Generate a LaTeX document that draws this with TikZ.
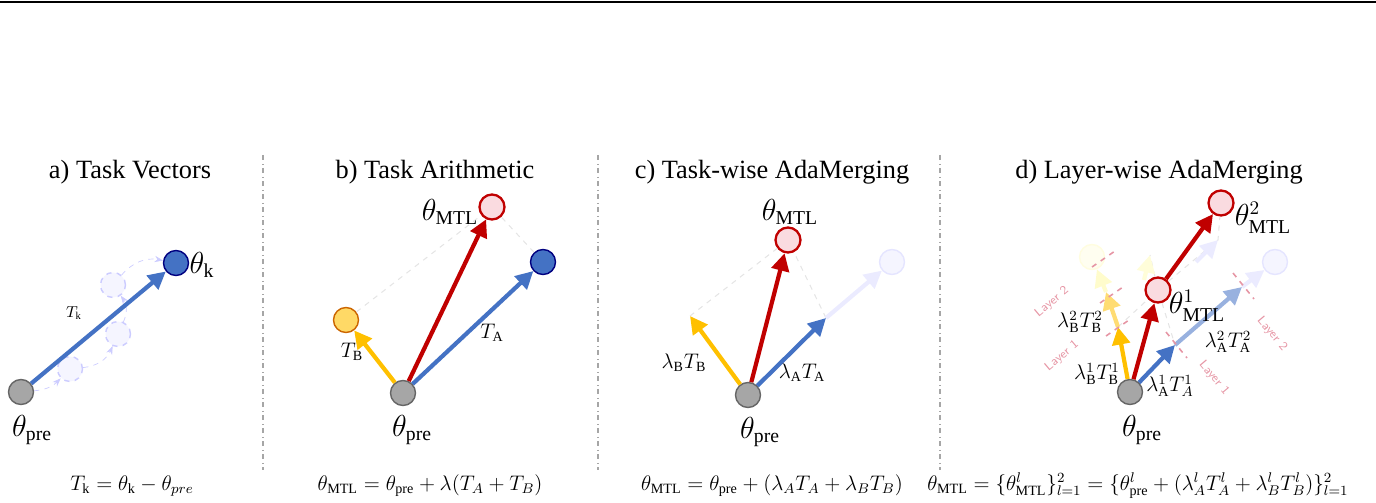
\documentclass[tikz,border=0pt]{standalone}
\usepackage{fontspec}
\setmainfont{Liberation Serif}
\usetikzlibrary{arrows.meta}
\begin{document}
\begin{tikzpicture}[x=0.02cm,y=-0.02cm,
  pt/.style={circle,minimum size=25*0.02cm,inner sep=0pt,line width=0.8pt},
  gpt/.style={pt,draw=gray!80!black,fill=gray!70},
  bpt/.style={pt,draw=blue!50!black,fill={rgb,255:red,68;green,114;blue,196}},
  ypt/.style={pt,draw=orange!80!black,fill={rgb,255:red,255;green,217;blue,102}},
  rpt/.style={pt,draw={rgb,255:red,192;green,0;blue,0},line width=1.3pt,fill={rgb,255:red,250;green,219;blue,224}},
  fpt/.style={pt,draw=blue!10,fill=blue!4},
  fyp/.style={pt,draw=yellow!12,fill=yellow!6},
  arr/.style={line width=2.4pt,-{Triangle[length=10pt,width=10pt]}},
  ba/.style={arr,draw=bA},
  ya/.style={arr,draw=yA},
  ra/.style={arr,draw=rA},
  guide/.style={dashed,draw=gray!20,line width=0.6pt},
  tick/.style={dashed,draw={rgb,255:red,230;green,150;blue,165},line width=0.9pt},
  lay/.style={text={rgb,255:red,230;green,150;blue,165},font=\sffamily\scriptsize,inner sep=0pt},
  ttl/.style={font=\fontsize{15}{18}\selectfont},
  frm/.style={font=\fontsize{11.5}{13}\selectfont},
  lbl/.style={font=\fontsize{16}{18}\selectfont,inner sep=1pt},
  sl/.style={font=\fontsize{12}{14}\selectfont,inner sep=1pt},
  sep/.style={dash dot,draw=gray!70,line width=0.6pt}]
\definecolor{bA}{RGB}{68,114,196}
\definecolor{yA}{RGB}{255,192,0}
\definecolor{rA}{RGB}{192,0,0}
\useasboundingbox (0,0) rectangle (1376,503);
\coordinate (tl) at (0,2); \coordinate (tr) at (1376,2);
\draw[line width=0.6pt] (tl) -- (tr);
\foreach \i/\x in {1/263,2/598,3/940}{
 \coordinate (s\i a) at (\x,155); \coordinate (s\i b) at (\x,470);
 \draw[sep] (s\i a) -- (s\i b);}
% ---- a
\node[ttl] (ta) at (130,172) {a) Task Vectors};
\node[fpt,dashed,draw=blue!20] (c1) at (70,369) {};
\node[fpt,dashed,draw=blue!20] (c2) at (118,334) {};
\node[fpt,dashed,draw=blue!20] (c3) at (113,285) {};
\node[gpt] (apre) at (21,392) {};
\node[bpt] (ak) at (176,263) {};
\draw[dashed,blue!20,-{Stealth}] (apre) to[bend right=20] (c1);
\draw[dashed,blue!20,-{Stealth}] (c1) to[bend right=30] (c2);
\draw[dashed,blue!20,-{Stealth}] (c2) to[bend right=30] (c3);
\draw[dashed,blue!20,-{Stealth}] (c3) to[bend left=30] (ak);
\draw[ba] (apre) -- (ak);
\node[font=\small] (atk) at (74,313) {$T_{\mathrm{k}}$};
\node[lbl] (alk) at (202,265) {$\theta_{\mathrm{k}}$};
\node[lbl] (alp) at (32,430) {$\theta_{\mathrm{pre}}$};
\node[frm] (fa) at (132,486) {$T_{\mathrm{k}}=\theta_{\mathrm{k}}-\theta_{pre}$};
% ---- b
\node[ttl] (tb) at (435,172) {b) Task Arithmetic};
\node[gpt] (bpre) at (403,393) {};
\node[ypt] (bB) at (346,320) {};
\node[bpt] (bA) at (543,262) {};
\node[rpt] (bM) at (492,207) {};
\draw[guide] (bB) -- (bM); \draw[guide] (bA) -- (bM);
\draw[ya] (bpre) -- (bB);
\draw[ba] (bpre) -- (bA);
\draw[ra] (bpre) -- (bM);
\node[sl] (btb) at (352,352) {$T_{\mathrm{B}}$};
\node[sl] (bta) at (492,333) {$T_{\mathrm{A}}$};
\node[lbl] (bml) at (450,212) {$\theta_{\mathrm{MTL}}$};
\node[lbl] (bpl) at (412,430) {$\theta_{\mathrm{pre}}$};
\node[frm] (fb) at (430,486) {$\theta_{\mathrm{MTL}}=\theta_{\mathrm{pre}}+\lambda(T_A+T_B)$};
% ---- c
\node[ttl] (tc) at (772,172) {c) Task-wise AdaMerging};
\node[gpt] (cpre) at (748,395) {};
\node[fpt] (cA) at (892,262) {};
\node[rpt] (cM) at (788,240) {};
\coordinate (cAt) at (826,318); \coordinate (cBt) at (690,316);
\draw[guide] (cBt) -- (cM); \draw[guide] (cAt) -- (cM);
\draw[line width=2.4pt,blue!8,-{Triangle[length=10pt,width=10pt]}] (cAt) -- (cA);
\draw[ya] (cpre) -- (cBt);
\draw[ba] (cpre) -- (cAt);
\draw[ra] (cpre) -- (cM);
\node[sl] (clb) at (684,363) {$\lambda_{\mathrm{B}}T_{\mathrm{B}}$};
\node[sl] (cla) at (802,373) {$\lambda_{\mathrm{A}}T_{\mathrm{A}}$};
\node[lbl] (cml) at (790,212) {$\theta_{\mathrm{MTL}}$};
\node[lbl] (cpl) at (760,432) {$\theta_{\mathrm{pre}}$};
\node[frm] (fc) at (772,486) {$\theta_{\mathrm{MTL}}=\theta_{\mathrm{pre}}+(\lambda_AT_A+\lambda_BT_B)$};
% ---- d
\node[ttl] (td) at (1159,172) {d) Layer-wise AdaMerging};
\node[fpt] (dA) at (1275,262) {};
\node[fyp] (dB) at (1092,257) {};
\node[gpt] (dpre) at (1130,392) {};
\coordinate (dA1) at (1175,345); \coordinate (dA2) at (1242,287);
\coordinate (dB1) at (1118,327); \coordinate (dB2) at (1106,292);
\node[rpt] (dM1) at (1158,290) {};
\node[rpt] (dM2) at (1221,203) {};
\coordinate (dg1) at (1218,240); \coordinate (dg2) at (1150,255);
\coordinate (dg3) at (1144,280);
\draw[guide] (dB1) -- (dM1) -- (dA1);
\draw[guide] (dM1) -- (dg1) -- (dM2);
\draw[guide] (dM1) -- (dg2);
\draw[line width=2.4pt,yellow!15,-{Triangle[length=10pt,width=10pt]}] (dg3) -- (dg2);
\draw[line width=2.4pt,blue!8,-{Triangle[length=10pt,width=10pt]}] (dA2) -- (dA);
\draw[line width=2.4pt,blue!8,-{Triangle[length=10pt,width=10pt]}] (1196,262) -- (dg1);
\draw[line width=2.4pt,yellow!20,-{Triangle[length=10pt,width=10pt]}] (dB2) -- (dB);
\draw[line width=2.4pt,yA!55,-{Triangle[length=10pt,width=10pt]}] (dB1) -- (dB2);
\draw[line width=2.4pt,bA!55,-{Triangle[length=10pt,width=10pt]}] (dA1) -- (dA2);
\draw[ya] (dpre) -- (dB1);
\draw[ba] (dpre) -- (dA1);
\draw[ra] (dpre) -- (dM1);
\draw[ra] (dM1) -- (dM2);
% ticks
\foreach \n/\a/\b/\c/\d in {t1/1106/336/1129/320,t2/1100/303/1123/287,t3/1092/267/1115/251,t4/1166/332/1187/358,t5/1233/273/1254/299}{
  \coordinate (\n a) at (\a,\b); \coordinate (\n b) at (\c,\d);
  \draw[tick] (\n a) -- (\n b);}
\node[lay,rotate=40] (dl1) at (1062,356) {Layer 1};
\node[lay,rotate=40] (dl2) at (1052,302) {Layer 2};
\node[lay,rotate=-50] (dr1) at (1214,378) {Layer 1};
\node[lay,rotate=-50] (dr2) at (1272,334) {Layer 2};
\node[sl] (dlb2) at (1080,322) {$\lambda^2_{\mathrm{B}}T^2_{\mathrm{B}}$};
\node[sl] (dlb1) at (1097,374) {$\lambda^1_{\mathrm{B}}T^1_{\mathrm{B}}$};
\node[sl] (dla1) at (1170,386) {$\lambda^1_{\mathrm{A}}T^1_{A}$};
\node[sl] (dla2) at (1228,342) {$\lambda^2_{\mathrm{A}}T^2_{\mathrm{A}}$};
\node[lbl] (dm1l) at (1197,306) {$\theta^1_{\mathrm{MTL}}$};
\node[lbl] (dm2l) at (1263,218) {$\theta^2_{\mathrm{MTL}}$};
\node[lbl] (dpl) at (1142,430) {$\theta_{\mathrm{pre}}$};
\node[frm] (fd) at (1138,486) {$\theta_{\mathrm{MTL}}=\{\theta^l_{\mathrm{MTL}}\}^2_{l=1}=\{\theta^l_{\mathrm{pre}}+(\lambda^l_AT^l_A+\lambda^l_BT^l_B)\}^2_{l=1}$};
\end{tikzpicture}
\end{document}
